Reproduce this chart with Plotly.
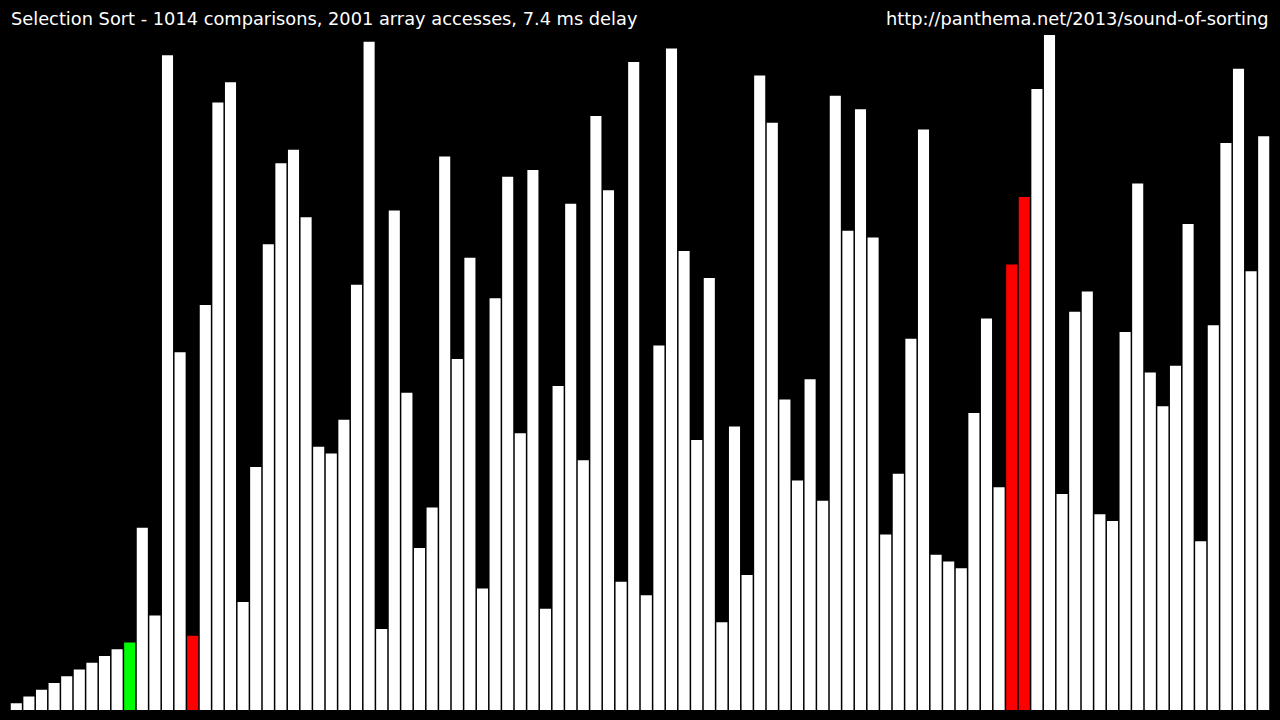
import plotly.graph_objects as go

values = [1, 2, 3, 4, 5, 6, 7, 8, 9, 10,
          27, 14, 97, 53, 11, 60, 90, 93, 16, 36,
          69, 81, 83, 73, 39, 38, 43, 63, 99, 12,
          74, 47, 24, 30, 82, 52, 67, 18, 61, 79,
          41, 80, 15, 48, 75, 37, 88, 77, 19, 96,
          17, 54, 98, 68, 40, 64, 13, 42, 20, 94,
          87, 46, 34, 49, 31, 91, 71, 89, 70, 26,
          35, 55, 86, 23, 22, 21, 44, 58, 33, 66,
          76, 92, 100, 32, 59, 62, 29, 28, 56, 78,
          50, 45, 51, 72, 25, 57, 84, 95, 65, 85]
green_idx = [9]
red_idx = [14, 79, 80]
title_text = "Selection Sort - 1014 comparisons, 2001 array accesses, 7.4 ms delay"
url_text = "http://panthema.net/2013/sound-of-sorting"

idx = list(range(len(values)))
colors = []
for i in idx:
    if i in green_idx:
        colors.append("#00ff00")
    elif i in red_idx:
        colors.append("#ff0000")
    else:
        colors.append("#ffffff")

fig = go.Figure(go.Bar(x=idx, y=values, marker=dict(color=colors, line=dict(width=0)),
                       hoverinfo="skip"))

title_font = dict(family="DejaVu Sans", size=17.8, color="#ffffff")

fig.update_layout(
    width=1280, height=720,
    paper_bgcolor="#000000", plot_bgcolor="#000000",
    margin=dict(l=10, r=10, t=35, b=10),
    bargap=0.12,
    showlegend=False,
    xaxis=dict(range=[-0.5, 99.5], visible=False, fixedrange=True),
    yaxis=dict(range=[0, 100], visible=False, fixedrange=True),
    font=dict(family="DejaVu Sans", color="#ffffff", size=16),
    annotations=[
        dict(text=title_text, xref="paper", yref="paper", x=0, y=1, xanchor="left",
             yanchor="middle", yshift=17, xshift=-1, showarrow=False, font=title_font),
        dict(text=url_text, xref="paper", yref="paper", x=1, y=1, xanchor="right",
             yanchor="middle", yshift=17, xshift=1, showarrow=False, font=title_font),
    ],
)

fig.write_html(
    "out.html",
    config={"displayModeBar": False},
    post_script="document.body.style.margin='0';document.body.style.background='#000';",
)
